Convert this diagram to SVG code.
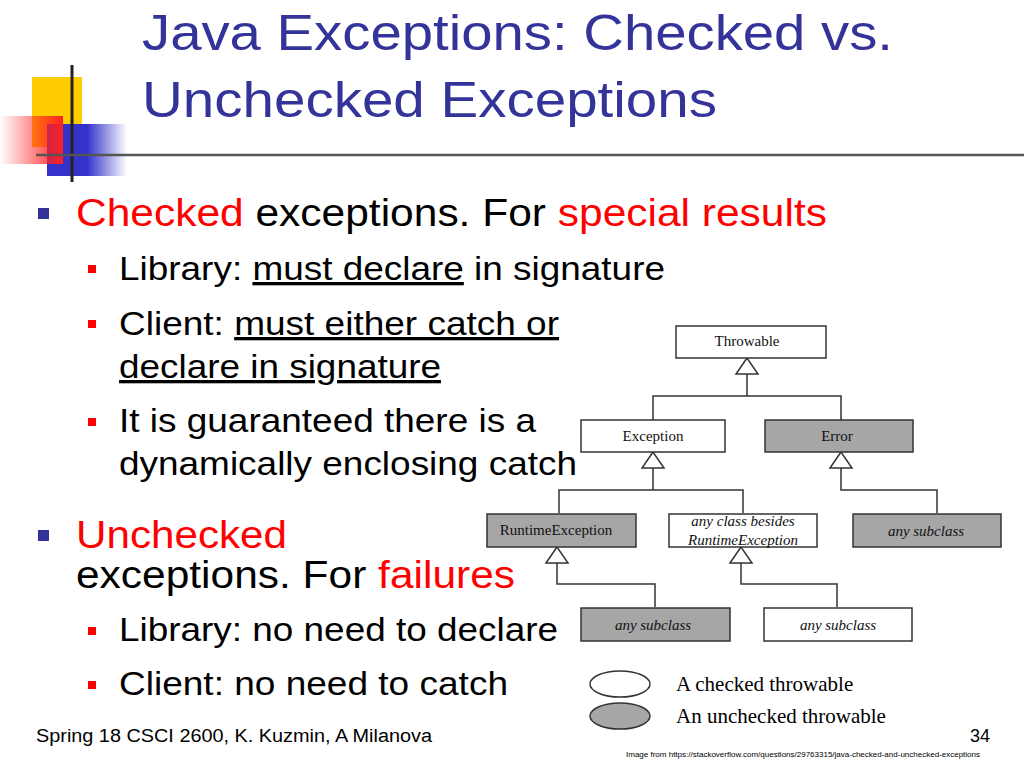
<svg xmlns="http://www.w3.org/2000/svg" width="1024" height="768" viewBox="0 0 1024 768">
<defs>
<linearGradient id="rg" x1="1" y1="0" x2="0" y2="0"><stop offset="0" stop-color="#ff2020"/><stop offset="1" stop-color="#ff2020" stop-opacity="0"/></linearGradient>
<linearGradient id="bg" x1="0" y1="0" x2="1" y2="0"><stop offset="0.5" stop-color="#3333cc"/><stop offset="1" stop-color="#3333cc" stop-opacity="0"/></linearGradient>
<style>
.t{font-family:"Liberation Sans",Arial,sans-serif;fill:#333399;font-size:50px}
.b{font-family:"Liberation Sans",Arial,sans-serif;font-size:38px;fill:#000}
.s{font-family:"Liberation Sans",Arial,sans-serif;font-size:33px;fill:#000}
.r{fill:#ff0000}
.n{stroke:#333;stroke-width:1.5}
.w{fill:#fff}
.g{fill:#a6a6a6}
.nt{font-family:"Liberation Serif","Times New Roman",serif;font-size:15px;text-anchor:middle;fill:#111}
.i{font-style:italic}
.c{fill:none;stroke:#333;stroke-width:1.5}
.tri{fill:#fff;stroke:#333;stroke-width:1.5}
</style>
</defs>
<g id="logo">
<rect x="32" y="77" width="50" height="70" fill="#ffcc00"/>
<rect x="47" y="124" width="80" height="52" fill="url(#bg)"/>
<rect x="0" y="116" width="63" height="48" fill="url(#rg)"/>
<line x1="72" y1="65" x2="72" y2="182" stroke="#222" stroke-width="3"/>
<line x1="36" y1="155" x2="1024" y2="155" stroke="#555" stroke-width="2.5"/>
</g>
<text class="t" x="142" y="50" textLength="751" lengthAdjust="spacingAndGlyphs">Java Exceptions: Checked vs.</text>
<text class="t" x="142" y="117" textLength="575" lengthAdjust="spacingAndGlyphs">Unchecked Exceptions</text>
<g id="bullets">
<rect x="38" y="208" width="11" height="11" fill="#333399"/>
<text class="b" x="76" y="226" textLength="751" lengthAdjust="spacingAndGlyphs"><tspan class="r">Checked</tspan> exceptions. For <tspan class="r">special results</tspan></text>
<rect x="88" y="265" width="8" height="8" fill="#ff0000"/>
<text class="s" x="119" y="280" textLength="546" lengthAdjust="spacingAndGlyphs">Library: <tspan text-decoration="underline">must declare</tspan> in signature</text>
<rect x="88" y="320" width="8" height="8" fill="#ff0000"/>
<text class="s" x="119" y="335" textLength="440" lengthAdjust="spacingAndGlyphs">Client: <tspan text-decoration="underline">must either catch or</tspan></text>
<text class="s" x="119" y="378" text-decoration="underline" textLength="322" lengthAdjust="spacingAndGlyphs">declare in signature</text>
<rect x="88" y="418" width="8" height="8" fill="#ff0000"/>
<text class="s" x="119" y="432" textLength="417" lengthAdjust="spacingAndGlyphs">It is guaranteed there is a</text>
<text class="s" x="119" y="475" textLength="458" lengthAdjust="spacingAndGlyphs">dynamically enclosing catch</text>
<rect x="38" y="530" width="11" height="11" fill="#333399"/>
<text class="b r" x="76" y="548" textLength="211" lengthAdjust="spacingAndGlyphs">Unchecked</text>
<text class="b" x="76" y="588" textLength="439" lengthAdjust="spacingAndGlyphs">exceptions. For <tspan class="r">failures</tspan></text>
<rect x="88" y="627" width="8" height="8" fill="#ff0000"/>
<text class="s" x="119" y="641" textLength="439" lengthAdjust="spacingAndGlyphs">Library: no need to declare</text>
<rect x="88" y="681" width="8" height="8" fill="#ff0000"/>
<text class="s" x="119" y="695" textLength="389" lengthAdjust="spacingAndGlyphs">Client: no need to catch</text>
</g>
<g id="connectors">
<path class="c" d="M747 374V396H653V420M747 396H841V420"/>
<path class="c" d="M653 468V490H559V513M653 490H743V513"/>
<path class="c" d="M841 468V490H937V513"/>
<path class="c" d="M557 563V584H655V607"/>
<path class="c" d="M741 563V584H837V607"/>
<polygon class="tri" points="747,358 736,374 758,374"/>
<polygon class="tri" points="653,452 642,468 664,468"/>
<polygon class="tri" points="841,452 830,468 852,468"/>
<polygon class="tri" points="557,547 546,563 568,563"/>
<polygon class="tri" points="741,547 730,563 752,563"/>
</g>
<g id="throwable"><rect class="n w" x="676" y="326" width="150" height="32"/><text class="nt" x="747" y="346">Throwable</text></g>
<g id="exception"><rect class="n w" x="581" y="420" width="144" height="32"/><text class="nt" x="653" y="441">Exception</text></g>
<g id="error"><rect class="n g" x="765" y="420" width="148" height="32"/><text class="nt" x="837" y="441">Error</text></g>
<g id="runtime"><rect class="n g" x="487" y="514" width="149" height="33"/><text class="nt" x="556" y="535">RuntimeException</text></g>
<g id="anyclass"><rect class="n w" x="669" y="514" width="148" height="33"/><text class="nt i" x="743" y="526" font-size="14">any class  besides</text><text class="nt i" x="743" y="545" font-size="14">RuntimeException</text></g>
<g id="errsub"><rect class="n g" x="853" y="514" width="148" height="33"/><text class="nt i" x="926" y="536">any subclass</text></g>
<g id="rtsub"><rect class="n g" x="581" y="608" width="149" height="33"/><text class="nt i" x="653" y="630">any subclass</text></g>
<g id="acsub"><rect class="n w" x="764" y="608" width="148" height="33"/><text class="nt i" x="838" y="630">any subclass</text></g>
<g id="legend">
<ellipse cx="620" cy="684" rx="30" ry="13" fill="#fff" stroke="#333" stroke-width="1.5"/>
<ellipse cx="620" cy="716" rx="30" ry="13" fill="#a6a6a6" stroke="#333" stroke-width="1.5"/>
<text x="676" y="691" font-family="Liberation Serif,serif" font-size="21">A checked throwable</text>
<text x="676" y="723" font-family="Liberation Serif,serif" font-size="21">An unchecked throwable</text>
</g>
<text x="36" y="742" font-family="Liberation Sans,sans-serif" font-size="18" textLength="396" lengthAdjust="spacingAndGlyphs">Spring 18 CSCI 2600, K. Kuzmin, A Milanova</text>
<text x="990" y="742" font-family="Liberation Sans,sans-serif" font-size="18" text-anchor="end">34</text>
<text x="980" y="757" font-family="Liberation Sans,sans-serif" font-size="8" text-anchor="end">Image from https://stackoverflow.com/questions/29763315/java-checked-and-unchecked-exceptions</text>
</svg>
